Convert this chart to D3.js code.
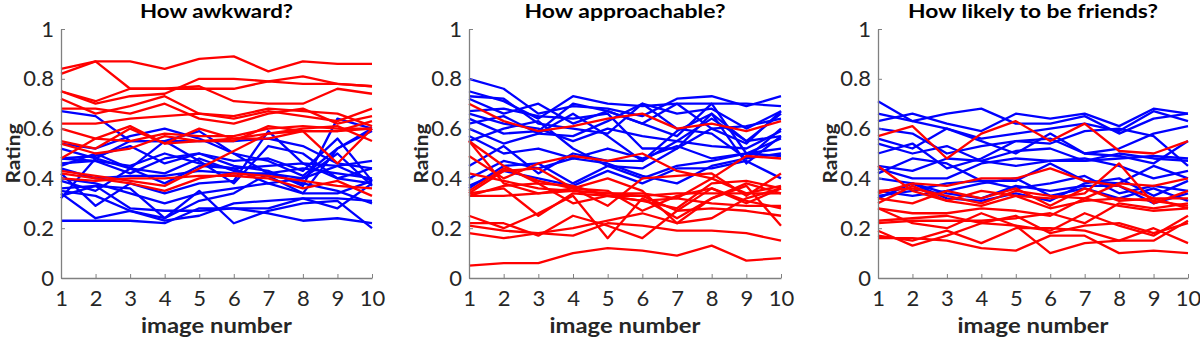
<!DOCTYPE html>
<html>
<head>
<meta charset="utf-8">
<script src="https://cdn.jsdelivr.net/npm/d3@7"></script>
<style>
  body { margin: 0; background: #fff; }
  svg text { font-family: Lato, "Open Sans", sans-serif; }
</style>
</head>
<body>
<script>
// image numbers on the x axis
let imageNumbers = [1, 2, 3, 4, 5, 6, 7, 8, 9, 10];
let yTicks = [0, 0.2, 0.4, 0.6, 0.8, 1];
let yTickLabels = ['0', '0.2', '0.4', '0.6', '0.8', '1'];
let titles = ['How awkward?', 'How approachable?', 'How likely to be friends?'];

// panel 1: how awkward
let awkwardRed = [
    [0.84,0.87,0.87,0.84,0.88,0.89,0.83,0.87,0.86,0.86],
    [0.82,0.87,0.76,0.76,0.76,0.76,0.79,0.78,0.78,0.77],
    [0.75,0.70,0.73,0.74,0.80,0.80,0.79,0.81,0.78,0.77],
    [0.75,0.71,0.76,0.76,0.77,0.71,0.70,0.70,0.76,0.74],
    [0.72,0.66,0.69,0.73,0.66,0.65,0.68,0.67,0.66,0.61],
    [0.68,0.68,0.66,0.70,0.64,0.62,0.66,0.68,0.62,0.65],
    [0.62,0.62,0.64,0.65,0.66,0.64,0.67,0.65,0.63,0.68],
    [0.60,0.56,0.55,0.58,0.57,0.57,0.60,0.61,0.60,0.60],
    [0.55,0.52,0.60,0.54,0.60,0.56,0.58,0.60,0.61,0.55],
    [0.54,0.50,0.52,0.57,0.55,0.56,0.56,0.59,0.46,0.60],
    [0.48,0.56,0.61,0.54,0.55,0.55,0.61,0.59,0.59,0.63],
    [0.43,0.41,0.39,0.37,0.44,0.51,0.58,0.59,0.59,0.60],
    [0.40,0.39,0.40,0.40,0.41,0.41,0.40,0.36,0.39,0.33],
    [0.42,0.40,0.38,0.35,0.40,0.42,0.41,0.39,0.37,0.36]
];
let awkwardBlue = [
    [0.23,0.23,0.23,0.22,0.28,0.28,0.26,0.23,0.24,0.22],
    [0.67,0.65,0.55,0.55,0.55,0.55,0.56,0.53,0.46,0.44],
    [0.54,0.52,0.57,0.60,0.56,0.50,0.47,0.41,0.52,0.60],
    [0.52,0.48,0.55,0.55,0.59,0.50,0.42,0.40,0.45,0.39],
    [0.48,0.47,0.45,0.50,0.46,0.44,0.45,0.46,0.45,0.47],
    [0.46,0.47,0.42,0.48,0.50,0.45,0.43,0.37,0.64,0.60],
    [0.44,0.40,0.41,0.41,0.43,0.42,0.42,0.44,0.42,0.40],
    [0.42,0.29,0.38,0.34,0.38,0.39,0.59,0.46,0.40,0.38],
    [0.40,0.38,0.34,0.30,0.34,0.36,0.38,0.34,0.34,0.39],
    [0.36,0.37,0.28,0.27,0.27,0.28,0.28,0.32,0.28,0.38],
    [0.34,0.24,0.27,0.24,0.35,0.22,0.27,0.30,0.31,0.20],
    [0.33,0.37,0.36,0.24,0.31,0.34,0.42,0.38,0.35,0.30],
    [0.32,0.48,0.44,0.42,0.48,0.43,0.41,0.34,0.52,0.59],
    [0.35,0.33,0.27,0.23,0.25,0.30,0.31,0.32,0.32,0.31],
    [0.48,0.49,0.53,0.46,0.50,0.47,0.48,0.43,0.56,0.39],
    [0.39,0.35,0.44,0.55,0.47,0.38,0.53,0.50,0.40,0.44],
    [0.45,0.50,0.44,0.38,0.45,0.44,0.38,0.40,0.50,0.37]
];

// panel 2: how approachable
let approachRed = [
    [0.70,0.63,0.59,0.61,0.64,0.66,0.60,0.62,0.59,0.63],
    [0.55,0.45,0.38,0.37,0.33,0.33,0.27,0.28,0.27,0.25],
    [0.49,0.40,0.46,0.49,0.47,0.50,0.43,0.40,0.49,0.48],
    [0.55,0.38,0.34,0.36,0.40,0.35,0.22,0.32,0.38,0.34],
    [0.35,0.44,0.39,0.36,0.29,0.40,0.41,0.42,0.33,0.42],
    [0.34,0.36,0.25,0.34,0.33,0.31,0.32,0.40,0.34,0.37],
    [0.33,0.33,0.34,0.35,0.34,0.33,0.34,0.34,0.34,0.34],
    [0.34,0.43,0.44,0.36,0.35,0.27,0.33,0.36,0.30,0.36],
    [0.33,0.37,0.38,0.30,0.33,0.31,0.28,0.38,0.39,0.36],
    [0.25,0.20,0.26,0.33,0.16,0.32,0.24,0.32,0.37,0.21],
    [0.22,0.22,0.17,0.25,0.21,0.16,0.27,0.36,0.31,0.28],
    [0.21,0.19,0.18,0.20,0.23,0.26,0.22,0.24,0.32,0.36],
    [0.18,0.16,0.18,0.17,0.22,0.21,0.19,0.19,0.18,0.15],
    [0.05,0.06,0.06,0.10,0.12,0.11,0.09,0.13,0.07,0.08],
    [0.42,0.39,0.36,0.35,0.34,0.34,0.32,0.30,0.29,0.29]
];
let approachBlue = [
    [0.80,0.76,0.66,0.69,0.68,0.65,0.72,0.73,0.69,0.73],
    [0.75,0.71,0.64,0.73,0.70,0.69,0.70,0.70,0.70,0.69],
    [0.73,0.72,0.62,0.60,0.58,0.70,0.66,0.68,0.60,0.67],
    [0.72,0.66,0.70,0.62,0.67,0.62,0.57,0.70,0.50,0.56],
    [0.67,0.68,0.65,0.64,0.66,0.52,0.52,0.66,0.55,0.66],
    [0.66,0.62,0.60,0.55,0.60,0.57,0.55,0.53,0.52,0.59],
    [0.64,0.58,0.59,0.70,0.67,0.62,0.70,0.60,0.61,0.64],
    [0.60,0.54,0.58,0.66,0.57,0.47,0.55,0.64,0.55,0.57],
    [0.57,0.50,0.52,0.48,0.52,0.48,0.53,0.48,0.50,0.52],
    [0.55,0.60,0.63,0.52,0.45,0.40,0.45,0.47,0.50,0.49],
    [0.45,0.53,0.42,0.50,0.47,0.47,0.59,0.66,0.46,0.57],
    [0.40,0.47,0.44,0.48,0.46,0.41,0.38,0.45,0.48,0.50],
    [0.37,0.43,0.40,0.37,0.43,0.38,0.44,0.44,0.47,0.40],
    [0.36,0.45,0.46,0.38,0.45,0.44,0.52,0.60,0.54,0.67],
    [0.62,0.65,0.58,0.57,0.63,0.70,0.60,0.58,0.48,0.60]
];

// panel 3: how likely to be friends
let friendsRed = [
    [0.57,0.61,0.48,0.58,0.63,0.55,0.62,0.51,0.50,0.55],
    [0.45,0.35,0.31,0.35,0.33,0.32,0.34,0.46,0.30,0.35],
    [0.35,0.36,0.33,0.30,0.35,0.33,0.32,0.38,0.37,0.40],
    [0.34,0.38,0.37,0.40,0.40,0.44,0.39,0.37,0.32,0.32],
    [0.32,0.30,0.35,0.32,0.36,0.29,0.36,0.31,0.32,0.28],
    [0.30,0.37,0.31,0.29,0.33,0.28,0.31,0.32,0.31,0.29],
    [0.28,0.26,0.26,0.28,0.27,0.25,0.32,0.29,0.27,0.28],
    [0.23,0.24,0.25,0.22,0.21,0.19,0.26,0.21,0.17,0.25],
    [0.22,0.23,0.23,0.23,0.24,0.26,0.22,0.30,0.28,0.30],
    [0.19,0.13,0.17,0.22,0.25,0.18,0.21,0.22,0.18,0.22],
    [0.17,0.15,0.19,0.14,0.20,0.20,0.19,0.15,0.20,0.14],
    [0.16,0.16,0.15,0.12,0.11,0.17,0.17,0.10,0.11,0.10],
    [0.28,0.22,0.20,0.26,0.21,0.10,0.14,0.15,0.15,0.23]
];
let friendsBlue = [
    [0.71,0.63,0.60,0.56,0.58,0.60,0.62,0.59,0.67,0.63],
    [0.66,0.63,0.66,0.68,0.62,0.62,0.65,0.58,0.64,0.66],
    [0.63,0.66,0.62,0.59,0.66,0.64,0.66,0.61,0.68,0.66],
    [0.60,0.58,0.50,0.53,0.55,0.54,0.59,0.60,0.57,0.45],
    [0.56,0.52,0.60,0.55,0.50,0.58,0.50,0.52,0.58,0.61],
    [0.54,0.50,0.53,0.47,0.51,0.52,0.47,0.48,0.49,0.48],
    [0.50,0.54,0.44,0.48,0.55,0.56,0.50,0.49,0.46,0.55],
    [0.45,0.43,0.48,0.47,0.45,0.47,0.48,0.45,0.40,0.43],
    [0.44,0.40,0.40,0.46,0.48,0.47,0.47,0.50,0.48,0.47],
    [0.42,0.48,0.46,0.39,0.39,0.46,0.39,0.38,0.45,0.40],
    [0.40,0.38,0.34,0.32,0.37,0.35,0.37,0.37,0.30,0.34],
    [0.35,0.33,0.35,0.38,0.40,0.33,0.36,0.32,0.36,0.31],
    [0.33,0.35,0.38,0.39,0.36,0.38,0.41,0.34,0.37,0.35],
    [0.32,0.38,0.32,0.31,0.34,0.31,0.38,0.40,0.33,0.39]
];

// layout of the three panels (title widths are the stretched widths in the figure)
let panels = [
    {title: titles[0], red: awkwardRed, blue: awkwardBlue, left: 61, right: 372, titleWidth: 153},
    {title: titles[1], red: approachRed, blue: approachBlue, left: 469, right: 781, titleWidth: 201},
    {title: titles[2], red: friendsRed, blue: friendsBlue, left: 878, right: 1188, titleWidth: 250}
];

let width = 1200, height = 341;
let plotTop = 29, plotBottom = 278;

let svg = d3.select('body').append('svg')
    .attr('width', width)
    .attr('height', height);

let axisColor = '#808080';
let textColor = '#262626';

panels.forEach(p => {
    let x = d3.scaleLinear().domain([1, 10]).range([p.left, p.right]);
    let y = d3.scaleLinear().domain([0, 1]).range([plotBottom, plotTop]);
    let g = svg.append('g');

    let line = d3.line()
        .x((d, i) => x(imageNumbers[i]))
        .y(d => y(d));

    // blue first, red drawn on top
    let lines = g.append('g').attr('class', 'lines');
    lines.selectAll('.blue').data(p.blue).enter().append('path')
        .attr('class', 'blue')
        .attr('d', line)
        .style('fill', 'none')
        .style('stroke', '#0000ff')
        .style('stroke-width', 2.3)
        .style('stroke-linejoin', 'round');
    lines.selectAll('.red').data(p.red).enter().append('path')
        .attr('class', 'red')
        .attr('d', line)
        .style('fill', 'none')
        .style('stroke', '#ff0000')
        .style('stroke-width', 2.3)
        .style('stroke-linejoin', 'round');

    // axes, ticks point inward (matlab style)
    let xAxis = d3.axisBottom(x).tickValues(imageNumbers).tickSizeInner(-4).tickSizeOuter(0).tickPadding(12);
    let yAxis = d3.axisLeft(y).tickValues(yTicks).tickFormat((d, i) => yTickLabels[i]).tickSizeInner(-4).tickSizeOuter(0).tickPadding(7);

    let gx = g.append('g').attr('transform', 'translate(0,' + plotBottom + ')').call(xAxis);
    let gy = g.append('g').attr('transform', 'translate(' + p.left + ',0)').call(yAxis);
    [gx, gy].forEach(a => {
        a.select('.domain').attr('stroke', axisColor).attr('stroke-width', 1.3);
        a.selectAll('.tick line').attr('stroke', axisColor);
        a.selectAll('.tick text')
            .attr('fill', textColor)
            .style('font-size', '22px');
    });
    gx.selectAll('.tick text').attr('dy', '0.71em');

    g.append('text')
        .attr('x', (p.left + p.right) / 2)
        .attr('y', 18)
        .attr('text-anchor', 'middle')
        .attr('textLength', p.titleWidth)
        .attr('lengthAdjust', 'spacingAndGlyphs')
        .style('font-size', '18px')
        .style('font-weight', 'bold')
        .attr('fill', '#000')
        .text(p.title);

    g.append('text')
        .attr('x', (p.left + p.right) / 2)
        .attr('y', 333)
        .attr('text-anchor', 'middle')
        .attr('textLength', 151)
        .attr('lengthAdjust', 'spacingAndGlyphs')
        .style('font-size', '21px')
        .style('font-weight', 'bold')
        .attr('fill', textColor)
        .text('image number');

    g.append('text')
        .attr('transform', 'translate(' + (p.left - 41) + ',' + ((plotTop + plotBottom) / 2) + ') rotate(-90)')
        .attr('text-anchor', 'middle')
        .attr('textLength', 60)
        .attr('lengthAdjust', 'spacingAndGlyphs')
        .style('font-size', '19px')
        .style('font-weight', 'bold')
        .attr('fill', textColor)
        .text('Rating');
});
</script>
</body>
</html>
